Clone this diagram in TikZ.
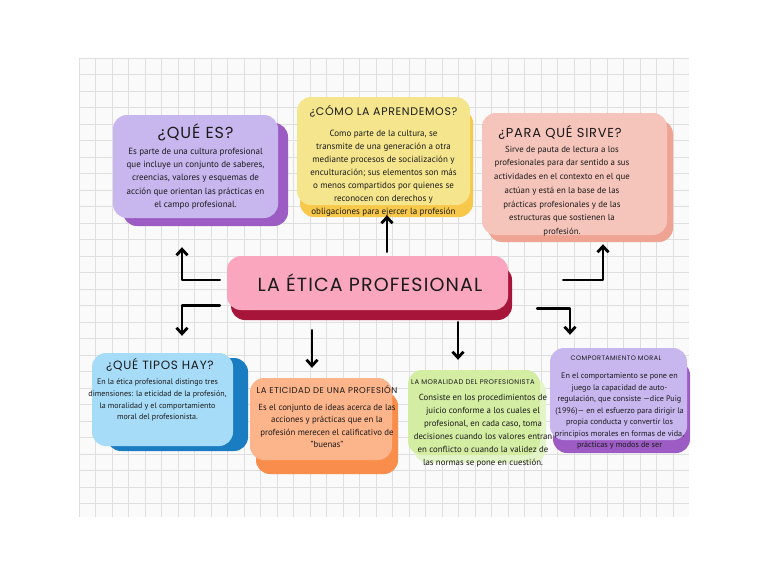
\documentclass[tikz,border=0pt]{standalone}
\usepackage{fontspec}
\setmainfont{PT Sans}
\newfontfamily\titlefont[LetterSpace=6]{Poppins}
\usetikzlibrary{arrows.meta, positioning, shadows}

\definecolor{lila}{HTML}{C8B6EF}
\definecolor{lilaosc}{HTML}{9C5CC4}
\definecolor{amarillo}{HTML}{F5E68E}
\definecolor{amarilloosc}{HTML}{F8C84A}
\definecolor{salmon}{HTML}{F5C4BA}
\definecolor{salmonosc}{HTML}{EFA393}
\definecolor{celeste}{HTML}{A6DCF8}
\definecolor{azul}{HTML}{1B7DC1}
\definecolor{naranja}{HTML}{FCB48A}
\definecolor{naranjaosc}{HTML}{F98E4C}
\definecolor{verde}{HTML}{D3EDA3}
\definecolor{verdeclaro}{HTML}{E4F4C9}
\definecolor{rosa}{HTML}{F9A6BE}
\definecolor{granate}{HTML}{A8153A}
\definecolor{tinta}{HTML}{1A1A1A}

\begin{document}
\begin{tikzpicture} [x = 1pt, y = -1pt, text = tinta,
  card/.style = {draw = none, rounded corners = 14pt, inner sep = 0pt},
  arr/.style = {-{Straight Barb[length = 6pt, width = 11pt]}, line width = 2.8pt, line cap = round, line join = round, draw = black},
  head/.style = {inner sep = 0pt, font = \titlefont\fontsize{#1}{#1}\selectfont},
  body/.style = {inner sep = 0pt, align = center}]

\useasboundingbox (0,0) rectangle (768,576);
\fill [white] (0,0) rectangle (768,576);
\fill [gray!4] (79,58) rectangle (689,517);
\foreach \gx in {79,95.5,...,689} \draw [gray!25, line width = 0.5pt] (\gx,58) -- (\gx,517);
\foreach \gy in {58,74.5,...,517} \draw [gray!25, line width = 0.5pt] (79,\gy) -- (689,\gy);

% tarjetas de arriba
\node [card, fill = lila, minimum width = 165pt, minimum height = 103pt,
  drop shadow = {shadow xshift = 10pt, shadow yshift = -8pt, fill = lilaosc, opacity = 1}] (quees) at (195.5,166.5) {};
\node [head = 16] (queesT) at ([yshift = -18pt]quees.north) {¿QUÉ ES?};
\node [body, below = 33pt of quees.north, font = \fontsize{9}{13.3}\selectfont] (queesB)
  {Es parte de una cultura profesional\\ que incluye un conjunto de saberes,\\ creencias, valores y esquemas de\\ acción que orientan las prácticas en\\ el campo profesional.};

\node [card, fill = amarillo, minimum width = 173pt, minimum height = 108pt,
  drop shadow = {shadow xshift = 3pt, shadow yshift = -12pt, fill = amarilloosc, opacity = 1}] (como) at (383.5,151) {};
\node [head = 11] (comoT) at ([yshift = -14pt]como.north) {¿CÓMO LA APRENDEMOS?};
\node [body, below = 33pt of como.north, font = \fontsize{9}{13}\selectfont] (comoB)
  {Como parte de la cultura, se\\ transmite de una generación a otra\\ mediante procesos de socialización y\\ enculturación; sus elementos son más\\ o menos compartidos por quienes se\\ reconocen con derechos y\\ obligaciones para ejercer la profesión};

\node [card, fill = salmon, minimum width = 185pt, minimum height = 122pt,
  drop shadow = {shadow xshift = 6pt, shadow yshift = -7pt, fill = salmonosc, opacity = 1}] (para) at (574.5,174) {};
\node [head = 13] (paraT) at ([shift = {(-14.5pt,-20pt)}]para.north) {¿PARA QUÉ SIRVE?};
\node [body, below = 33pt of para.north, xshift = -12.5pt, font = \fontsize{8.8}{13.7}\selectfont] (paraB)
  {Sirve de pauta de lectura a los\\ profesionales para dar sentido a sus\\ actividades en el contexto en el que\\ actúan y está en la base de las\\ prácticas profesionales y de las\\ estructuras que sostienen la\\ profesión.};

% nodo central
\node [card, fill = rosa, minimum width = 281pt, minimum height = 54pt,
  drop shadow = {shadow xshift = 4pt, shadow yshift = -10pt, fill = granate, opacity = 1}] (main) at (367.5,283) {};
\node [head = 19] (mainT) at ([xshift = 2.5pt]main.center) {LA ÉTICA PROFESIONAL};

% tarjetas de abajo
\node [card, fill = celeste, minimum width = 141pt, minimum height = 93pt,
  drop shadow = {shadow xshift = 15pt, shadow yshift = -5pt, fill = azul, opacity = 1}] (tipos) at (162.5,399.5) {};
\node [head = 12] (tiposT) at ([shift = {(-2.5pt,-12pt)}]tipos.north) {¿QUÉ TIPOS HAY?};
\node [body, below = 26pt of tipos.north, xshift = -5pt, font = \fontsize{8}{11.7}\selectfont] (tiposB)
  {En la ética profesional distingo tres\\ dimensiones: la eticidad de la profesión,\\ la moralidad y el comportamiento\\ moral del profesionista.};

\node [card, fill = naranja, minimum width = 142pt, minimum height = 82pt,
  drop shadow = {shadow xshift = 6pt, shadow yshift = -14pt, fill = naranjaosc, opacity = 1}] (etic) at (321,419) {};
\node [head = 8.5] (eticT) at ([shift = {(6pt,-12pt)}]etic.north) {LA ETICIDAD DE UNA PROFESIÓN};
\node [body, below = 26pt of etic.north, xshift = 6pt, font = \fontsize{8.8}{12.5}\selectfont] (eticB)
  {Es el conjunto de ideas acerca de las\\ acciones y prácticas que en la\\ profesión merecen el calificativo de\\ "buenas"};

\node [card, fill = verde, minimum width = 132pt, minimum height = 85pt,
  drop shadow = {shadow xshift = 6pt, shadow yshift = -8pt, fill = verdeclaro, opacity = 1}] (moral) at (474,412.5) {};
\node [head = 6.8] (moralT) at ([shift = {(-1pt,-12pt)}]moral.north) {LA MORALIDAD DEL PROFESIONISTA};
\node [body, below = 24pt of moral.north, xshift = 9pt, font = \fontsize{8.8}{13}\selectfont] (moralB)
  {Consiste en los procedimientos de\\ juicio conforme a los cuales el\\ profesional, en cada caso, toma\\ decisiones cuando los valores entran\\ en conflicto o cuando la validez de\\ las normas se pone en cuestión.};

\node [card, fill = lila, minimum width = 137pt, minimum height = 92pt,
  drop shadow = {shadow xshift = 3pt, shadow yshift = -13pt, fill = lilaosc, opacity = 1}] (comport) at (618.5,394) {};
\node [head = 6.5] (comportT) at ([shift = {(-2.5pt,-10pt)}]comport.north) {COMPORTAMIENTO MORAL};
\node [body, below = 25pt of comport.north, xshift = 1pt, font = \fontsize{8.1}{11.5}\selectfont] (comportB)
  {En el comportamiento se pone en\\ juego la capacidad de auto-\\ regulación, que consiste ---dice Puig\\ (1996)--- en el esfuerzo para dirigir la\\ propia conducta y convertir los\\ principios morales en formas de vida,\\ prácticas y modos de ser};

% flechas
\draw [arr] ([shift = {(-7pt,3pt)}]main.west) -| ([shift = {(-13.5pt,-29pt)}]quees.south);
\draw [arr] ([shift = {(-7pt,5pt)}]main.south west) -| ([shift = {(19.5pt,17pt)}]tipos.north);
\draw [arr] ([shift = {(55pt,3pt)}]main.east) -| ([shift = {(28.5pt,-9pt)}]para.south);
\draw [arr] ([shift = {(29pt,2pt)}]main.south east) -| ([shift = {(-48.5pt,13pt)}]comport.north);
\draw [arr] ([shift = {(19.5pt,4pt)}]main.north) -- ([shift = {(3.5pt,-10pt)}]como.south);
\draw [arr] ([shift = {(-55.5pt,-20pt)}]main.south) -- ([shift = {(-9pt,10pt)}]etic.north);
\draw [arr] ([shift = {(90.5pt,-12pt)}]main.south) -- ([shift = {(-16pt,10pt)}]moral.north);

\end{tikzpicture}
\end{document}
